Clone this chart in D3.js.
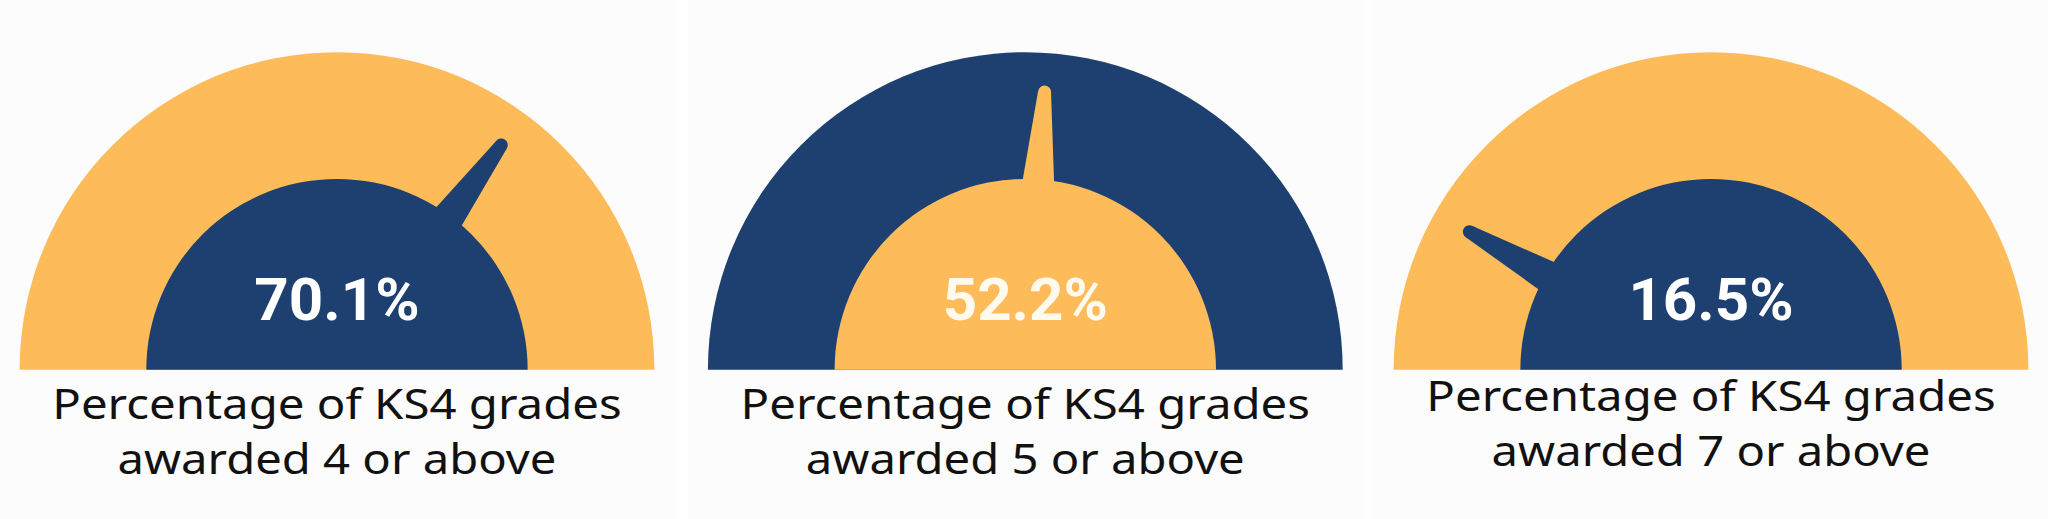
<!DOCTYPE html>
<html><head><meta charset="utf-8">
<script src="https://cdn.jsdelivr.net/npm/d3@7"></script>
<style>body{margin:0;background:#fff}svg{display:block}</style>
</head><body>
<script>
const values = [70.1, 52.2, 16.5];
const labels1 = ["Percentage of KS4 grades","Percentage of KS4 grades","Percentage of KS4 grades"];
const labels2 = ["awarded 4 or above","awarded 5 or above","awarded 7 or above"];
const outerColors = ["#FDBB5A","#1D4070","#FDBB5A"];
const innerColors = ["#1D4070","#FDBB5A","#1D4070"];
const textColors = ["#FFFFFF","#FFF9EE","#FFFFFF"];

const W=2048,H=519;
const S=W/1568;
const svg0=d3.select("body").append("svg").attr("width",W).attr("height",H);
svg0.append("rect").attr("width",W).attr("height",H).attr("fill","#FFFFFF");
const svg=svg0.append("g").attr("transform",`scale(${S})`);
const centers=[258,785,1310];
const ang=d3.scaleLinear().domain([0,100]).range([-90,90]);
const baseY=283, R=243, r=146, needleLen=213;

values.forEach((v,i)=>{
  svg.append("rect").attr("x",centers[i]-258).attr("y",0).attr("width",516).attr("height",H/S).attr("fill","#FCFCFC");
  const g=svg.append("g").attr("transform",`translate(${centers[i]},${baseY})`);
  g.append("path").attr("d",d3.arc()({innerRadius:0,outerRadius:R,startAngle:-Math.PI/2,endAngle:Math.PI/2})).attr("fill",outerColors[i]);
  const n=g.append("g").attr("transform",`rotate(${ang(v)})`).attr("fill",innerColors[i]);
  n.append("path").attr("d",`M-14,-${r-20} L14,-${r-20} L5,-${needleLen} L-5,-${needleLen} Z`);
  n.append("circle").attr("cx",0).attr("cy",-needleLen).attr("r",5);
  g.append("path").attr("d",d3.arc()({innerRadius:0,outerRadius:r,startAngle:-Math.PI/2,endAngle:Math.PI/2})).attr("fill",innerColors[i]);
  g.append("text").attr("x",0).attr("y",-38).attr("text-anchor","middle")
    .attr("font-family","Roboto, 'Noto Sans', sans-serif").attr("font-weight","bold").attr("font-size",46)
    .attr("fill",textColors[i]).text(v.toFixed(1)+"%");
  const dy = i===2 ? -6 : 0;
  svg.append("text").attr("x",centers[i]).attr("y",baseY+38+dy).attr("text-anchor","middle")
    .attr("font-family","'Noto Sans', sans-serif").attr("font-size",32).attr("fill","#111")
    .attr("textLength",436).attr("lengthAdjust","spacingAndGlyphs").text(labels1[i]);
  svg.append("text").attr("x",centers[i]).attr("y",baseY+80+dy).attr("text-anchor","middle")
    .attr("font-family","'Noto Sans', sans-serif").attr("font-size",32).attr("fill","#111")
    .attr("textLength",336).attr("lengthAdjust","spacingAndGlyphs").text(labels2[i]);
});
</script>
</body></html>
